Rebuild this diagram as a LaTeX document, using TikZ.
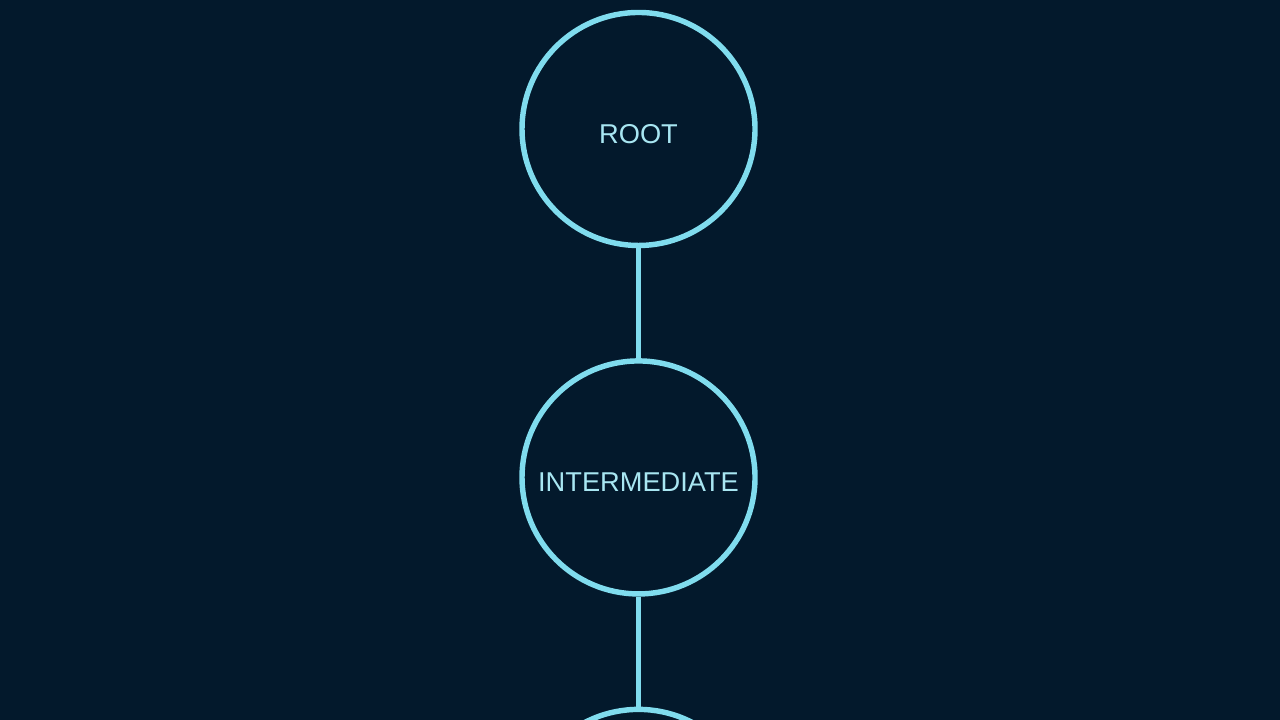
\documentclass[tikz,border=0pt]{standalone}
\usepackage{fontspec}
\setmainfont{Liberation Sans}
\usepackage{tikz}
\usetikzlibrary{positioning}

\definecolor{bgnavy}{HTML}{03192C}
\definecolor{ringcyan}{HTML}{80DCEE}
\definecolor{textcyan}{HTML}{A8E6F2}

\tikzset{
	treenode/.style={circle, draw=ringcyan, line width=1.55pt, minimum size=2.33cm, inner sep=0pt},
	nodetext/.style={text=textcyan, font=\fontsize{7.75pt}{8.5pt}\selectfont, yshift=-0.05cm},
	treeedge/.style={ringcyan, line width=1.55pt}
}

\begin{document}
\begin{tikzpicture}
		\clip (0,0) rectangle (12.8,7.2);
		\fill[bgnavy] (0,0) rectangle (12.8,7.2);
		\node[treenode, label={[nodetext]center:ROOT}](root) at (6.385,5.91){};
		\node[treenode, below=1.1cm of root, label={[nodetext]center:INTERMEDIATE}](mid){};
		\node[treenode, below=1.1cm of mid](leaf){};
		\draw[treeedge] (root) -- (mid);
		\draw[treeedge] (mid) -- (leaf);
\end{tikzpicture}
\end{document}
